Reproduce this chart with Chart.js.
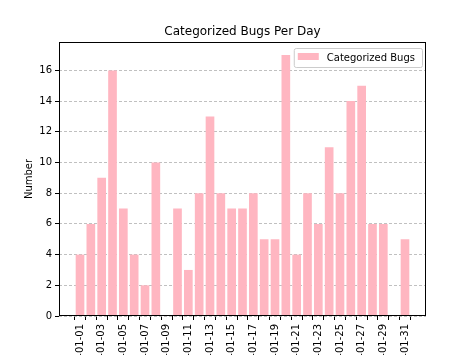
<!DOCTYPE html>
<html>
<head>
<meta charset="utf-8">
<script src="https://cdn.jsdelivr.net/npm/chart.js@4"></script>
<style>
  html, body { margin: 0; padding: 0; background: #fff; overflow: hidden; }
  #wrap { width: 474px; height: 355px; }
</style>
</head>
<body>
<div id="wrap"><canvas id="c" width="474" height="355"></canvas></div>
<script>
const chartTitle = "Categorized Bugs Per Day";
const seriesLabel = "Categorized Bugs";
const yAxisLabel = "Number";
const categories = [
  "2024-01-01","2024-01-02","2024-01-03","2024-01-04","2024-01-05","2024-01-06","2024-01-07","2024-01-08",
  "2024-01-09","2024-01-10","2024-01-11","2024-01-12","2024-01-13","2024-01-14","2024-01-15","2024-01-16",
  "2024-01-17","2024-01-18","2024-01-19","2024-01-20","2024-01-21","2024-01-22","2024-01-23","2024-01-24",
  "2024-01-25","2024-01-26","2024-01-27","2024-01-28","2024-01-29","2024-01-30","2024-01-31"
];
const bugCounts = [4,6,9,16,7,4,2,10,0,7,3,8,13,8,7,7,8,5,5,17,4,8,6,11,8,14,15,6,6,0,5];
const yTicks = [0,2,4,6,8,10,12,14,16];

const FONT = "'DejaVu Sans', sans-serif";
const BAR_COLOR = '#ffb6c1';

const framePlugin = {
  id: 'frame',
  afterDraw(chart) {
    const {ctx, chartArea: a} = chart;
    ctx.save();
    ctx.setLineDash([]);
    ctx.strokeStyle = '#000';
    ctx.lineWidth = 1;
    ctx.strokeRect(Math.round(a.left) + 0.5, Math.round(a.top) + 0.5,
                   Math.round(a.right - a.left) - 1, Math.round(a.bottom - a.top) - 1);
    ctx.fillStyle = '#000';
    ctx.font = '12px ' + FONT;
    ctx.textAlign = 'center';
    ctx.textBaseline = 'alphabetic';
    ctx.fillText(chartTitle, (a.left + a.right) / 2, 35);
    ctx.font = '10px ' + FONT;
    const tw = ctx.measureText(seriesLabel).width;
    const bw = tw + 40, bh = 19;
    const bx = a.right - 4 - bw, by = a.top + 6;
    ctx.beginPath();
    if (ctx.roundRect) ctx.roundRect(bx + 0.5, by + 0.5, bw, bh, 2);
    else ctx.rect(bx + 0.5, by + 0.5, bw, bh);
    ctx.fillStyle = 'rgba(255,255,255,0.8)';
    ctx.fill();
    ctx.strokeStyle = '#cccccc';
    ctx.stroke();
    ctx.fillStyle = BAR_COLOR;
    ctx.fillRect(bx + 4, by + 5, 21, 7);
    ctx.fillStyle = '#000';
    ctx.textAlign = 'left';
    ctx.textBaseline = 'middle';
    ctx.fillText(seriesLabel, bx + 33, by + bh / 2 + 0.5);
    ctx.restore();
  }
};

new Chart(document.getElementById('c'), {
  type: 'bar',
  data: {
    datasets: [{
      label: seriesLabel,
      data: bugCounts.map((v, i) => ({x: i, y: v})),
      backgroundColor: BAR_COLOR,
      borderWidth: 0,
      barPercentage: 0.8,
      categoryPercentage: 1.0
    }]
  },
  options: {
    responsive: false,
    devicePixelRatio: 1,
    animation: false,
    layout: { padding: { left: 0, right: 48, top: 42, bottom: 0 } },
    plugins: {
      legend: { display: false },
      title: { display: false },
      tooltip: { enabled: false }
    },
    scales: {
      x: {
        type: 'linear',
        min: -1.94,
        max: categories.length - 1 + 1.94,
        offset: false,
        border: { display: false },
        grid: { drawOnChartArea: false, drawTicks: true, tickLength: 4, tickColor: '#000', tickWidth: 1 },
        afterBuildTicks(scale) { scale.ticks = categories.map((c, i) => ({value: i})); },
        afterFit(scale) { scale.height = 39; },
        ticks: {
          autoSkip: false,
          maxRotation: 90,
          minRotation: 90,
          padding: 4,
          color: '#000',
          font: { family: FONT, size: 10 },
          callback: (v) => (Number.isInteger(v) && v % 2 === 0 && categories[v]) ? categories[v] : ''
        }
      },
      y: {
        min: 0,
        max: 17.85,
        border: { display: false, dash: [3, 2] },
        afterBuildTicks(scale) { scale.ticks = yTicks.map(v => ({value: v})); },
        afterFit(scale) { scale.width = 59; },
        grid: {
          color: '#b0b0b0',
          tickColor: '#000',
          tickBorderDash: [1, 0],
          tickLength: 4,
          tickWidth: 1,
          lineWidth: 0.8
        },
        ticks: {
          padding: 3,
          color: '#000',
          font: { family: FONT, size: 10 },
          callback: (v) => String(v)
        },
        title: {
          display: true,
          text: yAxisLabel,
          color: '#000',
          font: { family: FONT, size: 10 },
          padding: { top: 23, bottom: 0 }
        }
      }
    }
  },
  plugins: [framePlugin]
});
</script>
</body>
</html>
